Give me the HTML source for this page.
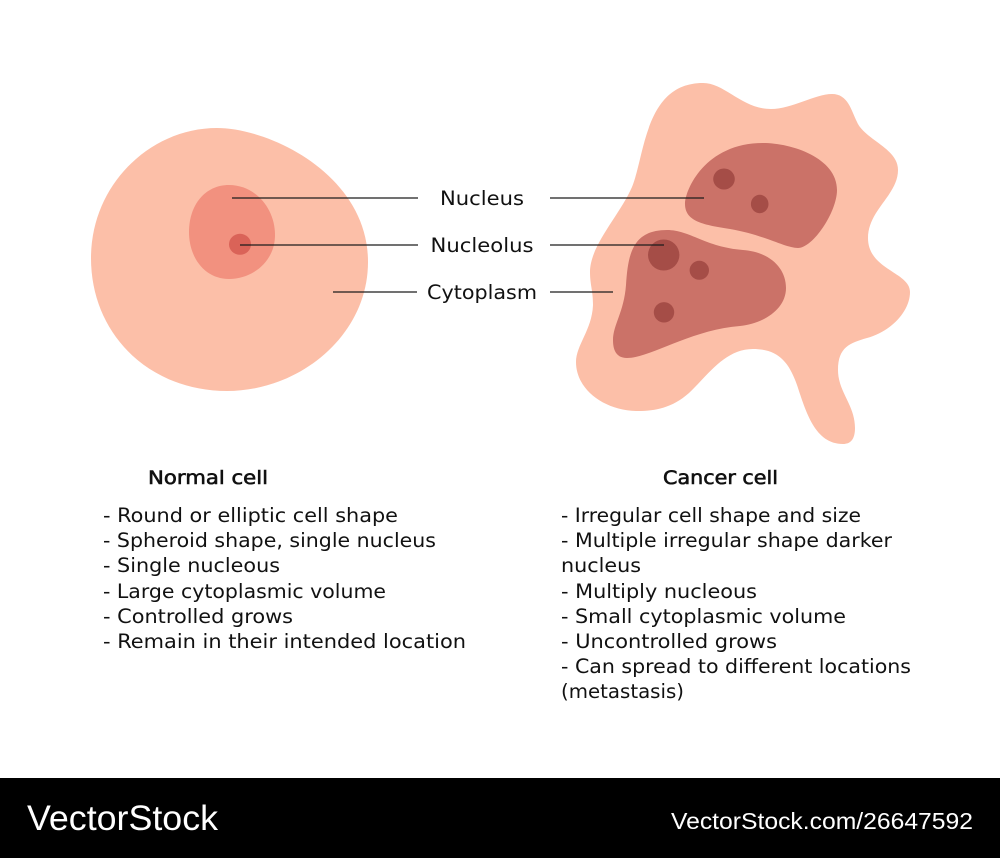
<!DOCTYPE html>
<html>
<head>
<meta charset="utf-8">
<style>
html,body{margin:0;padding:0;background:#fff;}
svg{display:block;}
text{font-family:"DejaVu Sans","Liberation Sans",sans-serif;fill:#111;}
</style>
</head>
<body>
<svg width="1000" height="858" viewBox="0 0 1000 858" xmlns="http://www.w3.org/2000/svg">
<rect width="1000" height="858" fill="#fff"/>
<!-- Normal cell -->
<path d="M217 128 C270 128 368 175 368 262 C368 335 300 391 227 391 C150 391 91 335 91 258 C91 185 150 128 217 128 Z" fill="#fcbfa8"/>
<path d="M229 185 C255 185 275 208 275 235 C275 262 252 279 229 279 C205 279 189 258 189 232 C189 205 205 185 229 185 Z" fill="#f2917f"/>
<ellipse cx="240" cy="244.3" rx="11" ry="10.5" fill="#da6358"/>
<!-- Cancer cell -->
<path d="M703 83 C725 83 742 109 771 109 C792 109 815 94 832 94 C848 94 851 110 857 122 C865 140 898 148 898 170 C898 195 868 210 868 238 C868 270 910 272 910 292 C910 312 890 332 867 338 C850 343 838 347 838 370 C838 392 855 405 855 428 C855 440 850 444 843 444 C815 444 806 412 797 385 C789 362 778 349 753 349 C725 349 708 375 689 393 C672 408 655 411 638 411 C605 411 576 390 576 362 C576 345 592 330 593 305 C593 290 590 285 590 272 C590 245 620 215 632 187 C645 155 645 83 703 83 Z" fill="#fcbfa8"/>
<path d="M763 143 C792 143 837 158 837 190 C837 212 813 248 798 248 C785 248 765 235 730 229 C705 225 685 222 685 204 C685 190 705 143 763 143 Z" fill="#cb7268"/>
<path d="M667 230 C690 230 705 247 743 250 C770 252 786 268 786 288 C786 310 762 324 740 326 C690 330 650 358 627 358 C615 358 613 348 613 340 C613 325 624 312 626 285 C628 255 632 230 667 230 Z" fill="#cb7268"/>
<ellipse cx="724" cy="179" rx="10.8" ry="10.5" fill="#a54d47"/>
<ellipse cx="759.7" cy="204" rx="8.8" ry="9.2" fill="#a54d47"/>
<ellipse cx="663.7" cy="255" rx="15.7" ry="15.5" fill="#a54d47"/>
<ellipse cx="699.3" cy="270.3" rx="9.7" ry="9.5" fill="#a54d47"/>
<ellipse cx="664" cy="312.3" rx="10.2" ry="10.2" fill="#a54d47"/>
<!-- Lines -->
<g stroke="#1c1c1c" stroke-width="1.2">
<line x1="232" y1="198" x2="418" y2="198"/>
<line x1="240" y1="245" x2="418" y2="245"/>
<line x1="333" y1="292" x2="417" y2="292"/>
<line x1="550" y1="198" x2="704" y2="198"/>
<line x1="550" y1="245" x2="664" y2="245"/>
<line x1="550" y1="292" x2="613" y2="292"/>
</g>
<g font-size="19.5">
<text x="482" y="205" text-anchor="middle" textLength="84" lengthAdjust="spacingAndGlyphs">Nucleus</text>
<text x="482" y="252" text-anchor="middle" textLength="103" lengthAdjust="spacingAndGlyphs">Nucleolus</text>
<text x="482" y="299" text-anchor="middle" textLength="110" lengthAdjust="spacingAndGlyphs">Cytoplasm</text>
<text x="148" y="484" stroke="#111" stroke-width="0.6" textLength="120" lengthAdjust="spacingAndGlyphs" font-size="19">Normal cell</text>
<text x="663" y="484" stroke="#111" stroke-width="0.6" textLength="115" lengthAdjust="spacingAndGlyphs" font-size="19">Cancer cell</text>
<text x="103" y="522" textLength="295" lengthAdjust="spacingAndGlyphs">- Round or elliptic cell shape</text>
<text x="103" y="547" textLength="333" lengthAdjust="spacingAndGlyphs">- Spheroid shape, single nucleus</text>
<text x="103" y="572" textLength="177" lengthAdjust="spacingAndGlyphs">- Single nucleous</text>
<text x="103" y="598" textLength="283" lengthAdjust="spacingAndGlyphs">- Large cytoplasmic volume</text>
<text x="103" y="623" textLength="190" lengthAdjust="spacingAndGlyphs">- Controlled grows</text>
<text x="103" y="648" textLength="363" lengthAdjust="spacingAndGlyphs">- Remain in their intended location</text>
<text x="561" y="522" textLength="300" lengthAdjust="spacingAndGlyphs">- Irregular cell shape and size</text>
<text x="561" y="547" textLength="331" lengthAdjust="spacingAndGlyphs">- Multiple irregular shape darker</text>
<text x="561" y="572" textLength="80" lengthAdjust="spacingAndGlyphs">nucleus</text>
<text x="561" y="598" textLength="196" lengthAdjust="spacingAndGlyphs">- Multiply nucleous</text>
<text x="561" y="623" textLength="285" lengthAdjust="spacingAndGlyphs">- Small cytoplasmic volume</text>
<text x="561" y="648" textLength="216" lengthAdjust="spacingAndGlyphs">- Uncontrolled grows</text>
<text x="561" y="673" textLength="350" lengthAdjust="spacingAndGlyphs">- Can spread to different locations</text>
<text x="561" y="698" textLength="123" lengthAdjust="spacingAndGlyphs">(metastasis)</text>
</g>
<!-- Footer -->
<rect x="0" y="778" width="1000" height="80" fill="#000"/>
<text x="27" y="830" font-size="35" style="fill:#fff;font-family:'Liberation Sans',sans-serif" textLength="191" lengthAdjust="spacingAndGlyphs">VectorStock</text>
<text x="671" y="829" font-size="23" style="fill:#fff;font-family:'Liberation Sans',sans-serif" textLength="302" lengthAdjust="spacingAndGlyphs">VectorStock.com/26647592</text>
</svg>
</body>
</html>
